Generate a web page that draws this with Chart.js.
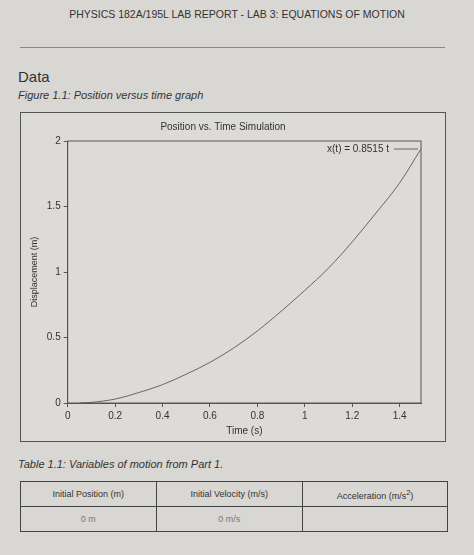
<!DOCTYPE html>
<html>
<head>
<meta charset="utf-8">
<script src="https://cdn.jsdelivr.net/npm/chart.js@4"></script>
<style>
body { margin:0; width:474px; height:555px; background:#d9d7d3; font-family:"Liberation Sans", Arial, sans-serif; color:#333; position:relative; overflow:hidden; }
.hdr { position:absolute; top:8px; left:0; width:474px; text-align:center; font-size:10.5px; }
.rule { position:absolute; top:47px; left:20px; width:425px; border-top:1px solid #888; }
.data { position:absolute; top:68px; left:18px; font-size:15px; }
.fig { position:absolute; top:89px; left:18px; font-size:11px; font-style:italic; }
.box { position:absolute; top:112px; left:20px; width:424px; height:328px; border:1px solid #555; background:#dddbd7; }
.tcap { position:absolute; top:458px; left:18px; font-size:11px; font-style:italic; }
table { position:absolute; top:481px; left:20px; width:428px; border-collapse:collapse; font-size:9px; }
td { border:1px solid #444; height:22px; text-align:center; }
</style>
</head>
<body>
<div class="hdr">PHYSICS 182A/195L LAB REPORT - LAB 3: EQUATIONS OF MOTION</div>
<div class="rule"></div>
<div class="data">Data</div>
<div class="fig">Figure 1.1: Position versus time graph</div>
<div class="box"><canvas id="lineChart" width="424" height="328"></canvas></div>
<div class="tcap">Table 1.1: Variables of motion from Part 1.</div>
<table>
<tr><td>Initial Position (m)</td><td>Initial Velocity (m/s)</td><td>Acceleration (m/s<sup>2</sup>)</td></tr>
<tr><td style="color:#777">0 m</td><td style="color:#777">0 m/s</td><td></td></tr>
</table>
<script>
var timeValues = [0.05, 0.1, 0.2, 0.3, 0.4, 0.5, 0.6, 0.7, 0.8, 0.9, 1.0, 1.1, 1.2, 1.3, 1.4, 1.49];
var displacementValues = [0, 0.005, 0.03, 0.08, 0.14, 0.22, 0.31, 0.42, 0.55, 0.70, 0.86, 1.03, 1.23, 1.45, 1.68, 1.94];
var xTicks = [0, 0.2, 0.4, 0.6, 0.8, 1, 1.2, 1.4];
var yTicks = [0, 0.5, 1, 1.5, 2];
var legendText = 'x(t) = 0.8515 t';

var points = timeValues.map(function (t, i) { return { x: t, y: displacementValues[i] }; });

var legendPlugin = {
    id: 'innerLegend',
    afterDraw: function (chart) {
        var ctx = chart.ctx, a = chart.chartArea;
        ctx.save();
        ctx.font = '10px "Liberation Sans", Arial';
        ctx.fillStyle = '#333';
        ctx.textAlign = 'right';
        ctx.textBaseline = 'middle';
        ctx.fillText(legendText, a.right - 32, a.top + 8);
        ctx.strokeStyle = '#666';
        ctx.beginPath();
        ctx.moveTo(a.right - 27, a.top + 8);
        ctx.lineTo(a.right - 3, a.top + 8);
        ctx.stroke();
        ctx.restore();
    }
};

var lineChart = new Chart(document.getElementById('lineChart'), {
    type: 'scatter',
    data: {
        datasets: [{
            data: points,
            showLine: true,
            borderColor: '#666',
            borderWidth: 1,
            pointRadius: 0,
            cubicInterpolationMode: 'monotone'
        }]
    },
    options: {
        responsive: false,
        animation: false,
        layout: { padding: { left: 4, right: 24, top: 0, bottom: 4 } },
        plugins: {
            legend: { display: false },
            tooltip: { enabled: false },
            title: { display: true, text: 'Position vs. Time Simulation', color: '#333', font: { size: 10, weight: 'normal' }, padding: { top: 8, bottom: 8 } }
        },
        scales: {
            x: {
                type: 'linear', min: 0, max: 1.49,
                afterBuildTicks: function (s) { s.ticks = xTicks.map(function (v) { return { value: v }; }); },
                ticks: { color: '#333', font: { size: 10 }, maxRotation: 0, callback: function (v) { return String(v); } },
                grid: { drawOnChartArea: false, color: '#555', tickLength: 4 },
                border: { color: '#555' },
                title: { display: true, text: 'Time (s)', color: '#333', font: { size: 10 }, padding: 0 }
            },
            y: {
                type: 'linear', min: 0, max: 2,
                afterBuildTicks: function (s) { s.ticks = yTicks.map(function (v) { return { value: v }; }); },
                ticks: { color: '#333', font: { size: 10 }, callback: function (v) { return String(v); } },
                grid: { drawOnChartArea: false, color: '#555', tickLength: 4 },
                border: { color: '#555' },
                title: { display: true, text: 'Displacement (m)', color: '#333', font: { size: 9 } }
            }
        }
    },
    plugins: [legendPlugin, {
        id: 'frame',
        afterDraw: function (chart) {
            var a = chart.chartArea, ctx = chart.ctx;
            ctx.save();
            ctx.strokeStyle = '#555';
            ctx.strokeRect(a.left, a.top, a.right - a.left, a.bottom - a.top);
            ctx.restore();
        }
    }]
});
</script>
</body>
</html>
